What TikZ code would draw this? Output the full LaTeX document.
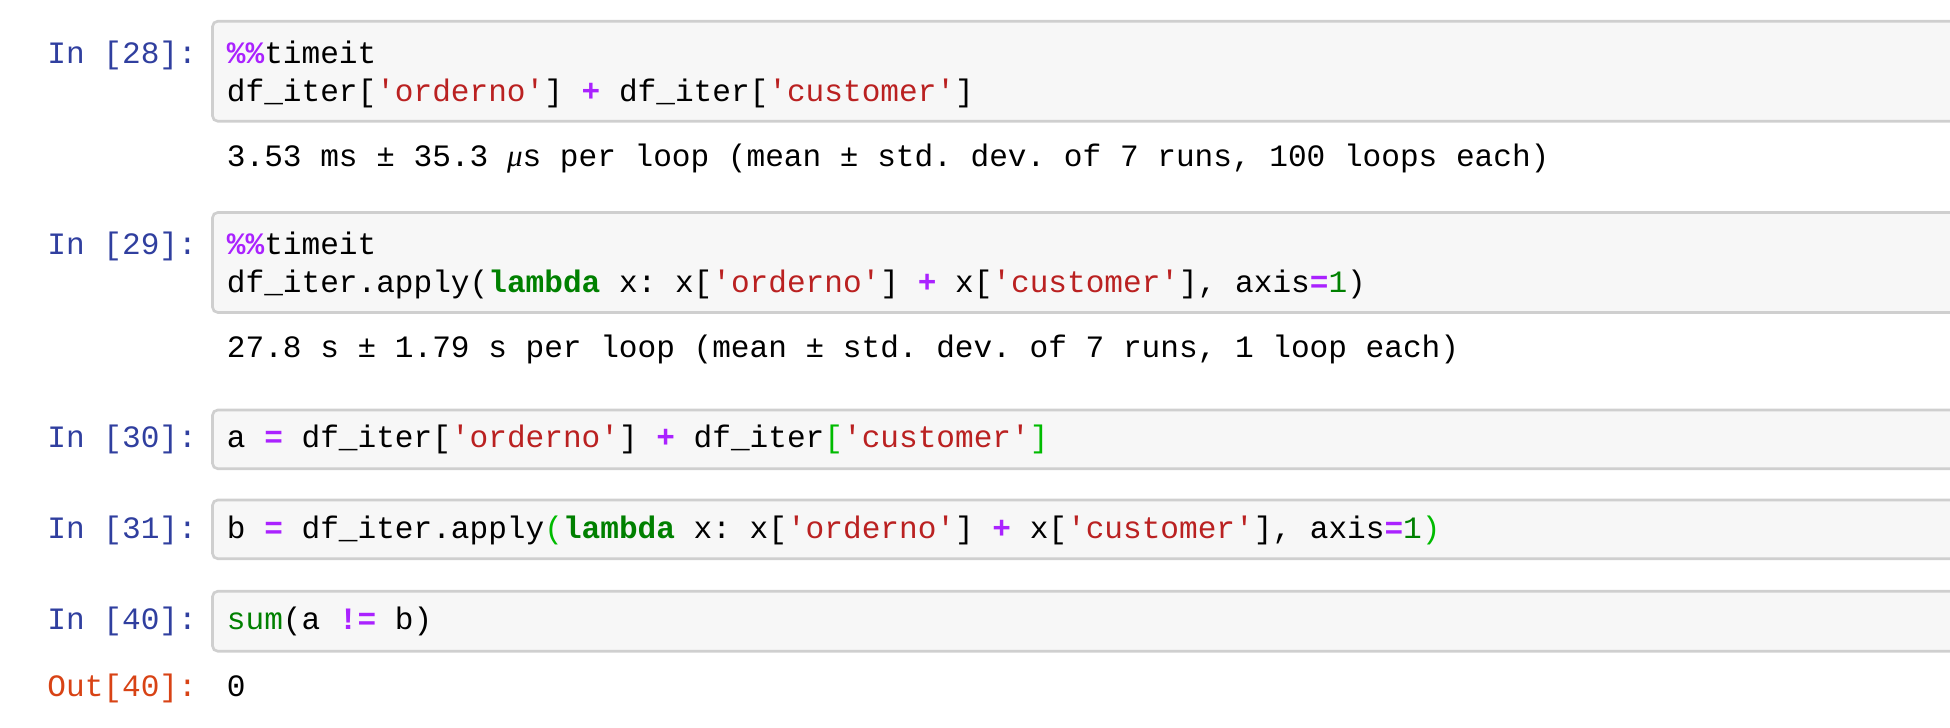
\documentclass[tikz,border=0pt]{standalone}
\usepackage{fontspec}
\setmonofont{Liberation Mono}
\newfontfamily\muf{Liberation Serif}
\definecolor{inb}{HTML}{303F9F}
\definecolor{outr}{HTML}{D84315}
\definecolor{cellbg}{HTML}{F7F7F7}
\definecolor{cellbd}{HTML}{CFCFCF}
\definecolor{str}{HTML}{BA2121}
\definecolor{kw}{HTML}{008000}
\definecolor{op}{HTML}{AA22FF}
\definecolor{br}{HTML}{00BB00}
\newcommand{\cS}[1]{\textcolor{str}{#1}}
\newcommand{\cK}[1]{\textcolor{kw}{\bfseries #1}}
\newcommand{\cN}[1]{\textcolor{kw}{#1}}
\newcommand{\cO}[1]{\textcolor{op}{\bfseries #1}}
\newcommand{\cB}[1]{\textcolor{br}{#1}}
\begin{document}
\begin{tikzpicture}[x=0.0125cm,y=-0.0125cm,
  code/.style={anchor=base west,inner sep=0pt,font=\ttfamily\fontsize{8.85}{10}\selectfont},
  prompt/.style={anchor=base east,inner sep=0pt,font=\ttfamily\fontsize{8.85}{10}\selectfont,text=inb},
  oprompt/.style={prompt,text=outr},
  cell/.style={draw=cellbd,fill=cellbg,line width=0.75pt,rounded corners=1.5pt}]
\path[use as bounding box] (0,0) rectangle (1560,582.4);
\clip (0,0) rectangle (1560,582.4);
\draw[cell] (170,17) rectangle (1570,97);
\draw[cell] (170,170) rectangle (1570,250);
\draw[cell] (170,328) rectangle (1570,375);
\draw[cell] (170,400) rectangle (1570,447);
\draw[cell] (170,473) rectangle (1570,521);
\node[prompt] (p28) at (158,51) {In [28]:};
\node[code] (c28a) at (181,51) {\cO{\%\%}timeit};
\node[code] (c28b) at (181,81) {df\_iter[\cS{'orderno'}] \cO{+} df\_iter[\cS{'customer'}]};
\node[code] (o28) at (181,133) {3.53 ms ± 35.3 {\muf\itshape μ}s per loop (mean ± std. dev. of 7 runs, 100 loops each)};
\node[prompt] (p29) at (158,204) {In [29]:};
\node[code] (c29a) at (181,204) {\cO{\%\%}timeit};
\node[code] (c29c) at (181,234) {df\_iter.apply(\cK{lambda} x: x[\cS{'orderno'}] \cO{+} x[\cS{'customer'}], axis\cO{=}\cN{1})};
\node[code] (o29) at (181,286) {27.8 s ± 1.79 s per loop (mean ± std. dev. of 7 runs, 1 loop each)};
\node[prompt] (p30) at (158,358) {In [30]:};
\node[code] (c30) at (181,358) {a \cO{=} df\_iter[\cS{'orderno'}] \cO{+} df\_iter\cB{[}\cS{'customer'}\cB{]}};
\node[prompt] (p31) at (158,431) {In [31]:};
\node[code] (c31) at (181,431) {b \cO{=} df\_iter.apply\cB{(}\cK{lambda} x: x[\cS{'orderno'}] \cO{+} x[\cS{'customer'}], axis\cO{=}\cN{1}\cB{)}};
\node[prompt] (p40) at (158,504) {In [40]:};
\node[code] (c40) at (181,504) {\cN{sum}(a \cO{!=} b)};
\node[oprompt] (q40) at (158,557) {Out[40]:};
\node[code] (o40) at (181,557) {0};
\end{tikzpicture}
\end{document}
